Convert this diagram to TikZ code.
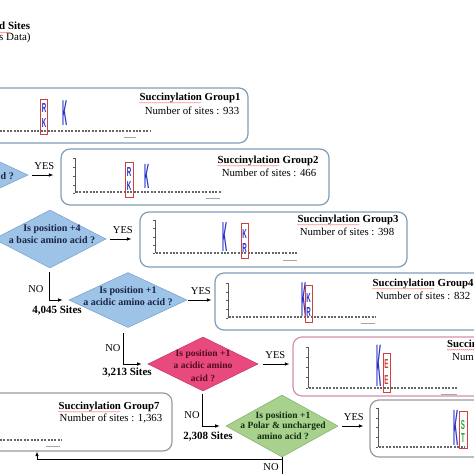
\documentclass[tikz,border=0pt]{standalone}
\usepackage{fontspec}
\setmainfont{Liberation Serif}
\setsansfont{Liberation Sans}
\usetikzlibrary{shapes.geometric,calc,arrows.meta,decorations.pathmorphing}
\definecolor{boxedge}{RGB}{128,158,184}
\definecolor{diablue}{RGB}{157,195,230}
\definecolor{diablueedge}{RGB}{125,165,210}
\definecolor{diapink}{RGB}{233,74,126}
\definecolor{diapinkedge}{RGB}{205,55,105}
\definecolor{diagreen}{RGB}{169,209,142}
\definecolor{diagreenedge}{RGB}{135,180,110}
\definecolor{pinkedge}{RGB}{212,145,172}
\definecolor{grayedge}{RGB}{155,155,155}
\definecolor{logoblue}{RGB}{35,45,200}
\definecolor{logored}{RGB}{205,65,65}
\definecolor{logogreen}{RGB}{40,160,60}
\definecolor{navytext}{RGB}{25,35,70}
\definecolor{maroontext}{RGB}{80,10,30}
\definecolor{greentext}{RGB}{20,45,15}
\newcommand{\gtfont}{\fontsize{10.8}{12}\selectfont\bfseries}
\newcommand{\gnfont}{\fontsize{10.8}{12}\selectfont}
\begin{document}
\begin{tikzpicture}[x=1pt,y=-1pt,
  gbox/.style={draw=boxedge, line width=1.2pt, rounded corners=9pt, inner sep=0pt, fill=white},
  dia/.style={diamond, inner sep=0pt, line width=0.6pt},
  dtext/.style={align=center, inner sep=0pt, font=\fontsize{10}{12}\selectfont\bfseries, text=navytext},
  arr/.style={-{Latex[length=4.5pt,width=3.6pt]}, line width=0.8pt},
  conn/.style={line width=0.8pt},
  lbl/.style={font=\fontsize{10.5}{12}\selectfont, inner sep=0pt},
  sites/.style={font=\fontsize{11}{12}\selectfont\bfseries, inner sep=0pt},
  gtitle/.style={font=\gtfont, inner sep=0pt},
  gnum/.style={font=\gnfont, inner sep=0pt},
  squig/.style={draw=red!60, line width=0.3pt, decorate, decoration={snake, amplitude=0.45pt, segment length=2pt}},
  lbase/.style={draw=black!60, line width=1.6pt, dash pattern=on 2pt off 1.4pt},
  laxis/.style={draw=black!65, line width=0.5pt},
  lsmall/.style={draw=black!35, line width=0.8pt},
  redbox/.style={draw=logored, line width=0.7pt},
  bigK/.style={font=\sffamily\bfseries\fontsize{10}{10}\selectfont, text=logoblue, inner sep=0pt, xscale=0.7},
  smallL/.style={font=\sffamily\bfseries\fontsize{6.5}{6.5}\selectfont, inner sep=0pt, xscale=0.95, yscale=2.0}
]
\useasboundingbox (0,0) rectangle (474,474);
\clip (0,0) rectangle (474,474);

% header text (cut off)
\node[anchor=west, inner sep=0pt, font=\fontsize{11}{12}\selectfont\bfseries] (hd1) at (-1,26) {d Sites};
\node[anchor=west, inner sep=0pt, font=\fontsize{11}{12}\selectfont] (hd2) at (-1,38) {s Data)};
\draw[squig] (0,32.5) -- (11,32.5);

% ---------- group boxes ----------
\node[gbox, minimum width=260pt, minimum height=55pt] (g1) at (118,115.5) {};
\node[gbox, minimum width=268pt, minimum height=56pt] (g2) at (195,177) {};
\node[gbox, minimum width=267pt, minimum height=55pt] (g3) at (273.5,239.5) {};
\node[gbox, minimum width=285pt, minimum height=57pt] (g4) at (357.5,301.5) {};
\node[gbox, draw=pinkedge, minimum width=207pt, minimum height=59pt] (g5) at (396.5,366.5) {};
\node[gbox, draw=grayedge, minimum width=130pt, minimum height=57pt] (g6) at (435,428.5) {};
\node[gbox, draw=grayedge, minimum width=184pt, minimum height=58pt] (g7) at (80,422) {};

% titles
\node[gtitle] (t1) at (190,98) {Succinylation Group1};
\node[gnum] (n1) at (192,111) {Number of sites : 933};
\node[gtitle] (t2) at (268,161) {Succinylation Group2};
\node[gnum] (n2) at (269,173) {Number of sites : 466};
\node[gtitle] (t3) at (348,220) {Succinylation Group3};
\node[gnum] (n3) at (347,232) {Number of sites : 398};
\node[gtitle] (t4) at (423,284) {Succinylation Group4};
\node[gnum] (n4) at (423,296) {Number of sites : 832};
\node[gtitle, anchor=west] (t5) at (447,345) {Succinylation Group5};
\node[gnum, anchor=west] (n5) at (452,357) {Number of sites :};
\node[gtitle] (t7) at (109,407) {Succinylation Group7};
\node[gnum] (n7) at (111,419) {Number of sites : 1,363};
\foreach \t in {t1,t2,t3,t4,t5,t7}{
  \draw[squig] ($(\t.base west)+(0,2.2)$) -- ++(62,0);
}

% ---------- logos ----------
% group1
\draw[lbase] (0,131) -- (150,131);
\draw[redbox] (40.5,99) rectangle (47.5,134);
\node[smallL, text=logoblue] (l1a) at (44,108) {R};
\node[smallL, text=logoblue] (l1b) at (44,123) {K};
\node[bigK, yscale=3.6] (k1) at (65,113) {K};
\draw[lsmall] (124,137) -- (136,137);
% group2
\draw[laxis] (75,158) -- (75,193);
\foreach \yy in {158,167,176,185,193} \draw[laxis] (73,\yy) -- (75,\yy);
\draw[lbase] (76,192) -- (222,192);
\draw[redbox] (125,162) rectangle (133,197);
\node[smallL, text=logoblue] (l2a) at (129,172) {R};
\node[smallL, text=logoblue] (l2b) at (129,186) {K};
\node[bigK, yscale=3.5] (k2) at (147,176) {K};
\draw[lsmall] (206,198) -- (220,198);
% group3
\draw[laxis] (155,220) -- (155,253);
\foreach \yy in {220,228,237,245,253} \draw[laxis] (153,\yy) -- (155,\yy);
\draw[lbase] (156,253) -- (298,253);
\node[bigK, yscale=4.2] (k3) at (225,237) {K};
\draw[redbox] (241,223) rectangle (248,258);
\node[smallL, text=logoblue] (l3a) at (244.5,234) {K};
\node[smallL, text=logoblue] (l3b) at (244.5,248) {R};
\draw[lsmall] (283,260) -- (297,260);
% group4
\draw[laxis] (228,283) -- (228,318);
\foreach \yy in {283,292,300,309,318} \draw[laxis] (226,\yy) -- (228,\yy);
\draw[lbase] (229,317) -- (376,317);
\node[bigK, yscale=4.9] (k4) at (304,300) {K};
\draw[redbox] (305,285) rectangle (312,322);
\node[smallL, text=logoblue] (l4a) at (308.5,298) {K};
\node[smallL, text=logoblue] (l4b) at (308.5,312) {R};
\draw[lsmall] (361,323) -- (375,323);
% group5
\draw[laxis] (308,347) -- (308,388);
\foreach \yy in {347,357,367,377,388} \draw[laxis] (306,\yy) -- (308,\yy);
\draw[lbase] (309,388) -- (457,388);
\node[bigK, yscale=6] (k5) at (379,366) {K};
\draw[redbox] (383,353) rectangle (390,392);
\node[smallL, text=logored] (l5a) at (386.5,364) {E};
\node[smallL, text=logored] (l5b) at (386.5,380) {E};
\draw[lsmall] (441,394) -- (457,394);
% group6
\draw[laxis] (378,408) -- (378,447);
\foreach \yy in {408,418,427,437,447} \draw[laxis] (376,\yy) -- (378,\yy);
\draw[lbase] (379,447) -- (465,447);
\node[bigK, yscale=5.1] (k6) at (456,428) {K};
\draw[redbox] (459,411) rectangle (467,448);
\node[smallL, text=logogreen] (l6a) at (463,425) {S};
\node[smallL, text=logogreen] (l6b) at (463,438) {T};
% group7
\draw[lbase] (0,440) -- (62,440);
\draw[lsmall] (46,446) -- (60,446);

% ---------- diamonds ----------
\node[dia, fill=diablue, draw=diablueedge, minimum width=120pt, minimum height=56pt] (d1) at (-32,175) {};
\node[dia, fill=diablue, draw=diablueedge, minimum width=112pt, minimum height=58pt] (d2) at (50,239) {};
\node[dia, fill=diablue, draw=diablueedge, minimum width=118pt, minimum height=55pt] (d3) at (128,300) {};
\node[dia, fill=diapink, draw=diapinkedge, minimum width=110pt, minimum height=54pt] (dp) at (203,364) {};
\node[dia, fill=diagreen, draw=diagreenedge, minimum width=112pt, minimum height=62pt] (dg) at (282,426) {};

\node[dtext, anchor=east] (d1t) at (14,176) {d ?};
\node[dtext] (d2t) at (52,234) {Is position +4\\a basic amino acid ?};
\node[dtext] (d3t) at (128,296.5) {Is position +1\\a acidic amino acid ?};
\node[dtext, font=\fontsize{9.5}{12.5}\selectfont\bfseries, text=maroontext] (dpt) at (203,365.5) {Is position +1\\a acidic amino\\acid ?};
\node[dtext, font=\fontsize{9.5}{10.5}\selectfont\bfseries, text=greentext] (dgt) at (283,425.5) {Is position +1\\a Polar \& uncharged\\amino acid ?};

% ---------- YES arrows ----------
\draw[arr, shorten <=4pt, shorten >=7pt] (d1.east) -- (d1.east -| g2.west) node[lbl, midway, above=5pt] (y1) {YES};
\draw[arr, shorten <=4pt, shorten >=8pt] (d2.east) -- (d2.east -| g3.west) node[lbl, midway, above=5pt] (y2) {YES};
\draw[arr, shorten <=1pt, shorten >=3pt] (d3.east) -- (d3.east -| g4.west) node[lbl, midway, above=5pt] (y3) {YES};
\draw[arr, shorten <=5pt, shorten >=3pt] (dp.east) -- (dp.east -| g5.west) node[lbl, midway, above=5pt] (y4) {YES};
\draw[arr, shorten <=4pt, shorten >=6pt] (dg.east) -- (dg.east -| g6.west) node[lbl, midway, above=5pt] (y5) {YES};

% ---------- NO arrows ----------
\draw[arr, shorten >=6pt] ($(d2.south)+(-1,4)$) |- (d3.west);
\node[lbl] (no1) at (36,289) {NO};
\node[sites] (s1) at (57,311) {4,045 Sites};

\draw[arr, shorten >=6pt] ($(d3.south)+(-5,5)$) |- (dp.west);
\node[lbl] (no2) at (113,348) {NO};
\node[sites] (s2) at (127,373) {3,213 Sites};

\draw[arr, shorten >=6pt] ($(dp.south)+(-1,3)$) |- (dg.west);
\node[lbl] (no3) at (192,415) {NO};
\node[sites] (s3) at (208,437) {2,308 Sites};

\coordinate (lc) at (37,459);
\draw[conn] (dg.south) -- ++(0,20);
\draw[conn] (dg.south |- lc) -- (lc);
\draw[arr] (lc) -- (lc |- g7.south);
\node[lbl] (no4) at (271,467) {NO};

\end{tikzpicture}
\end{document}
